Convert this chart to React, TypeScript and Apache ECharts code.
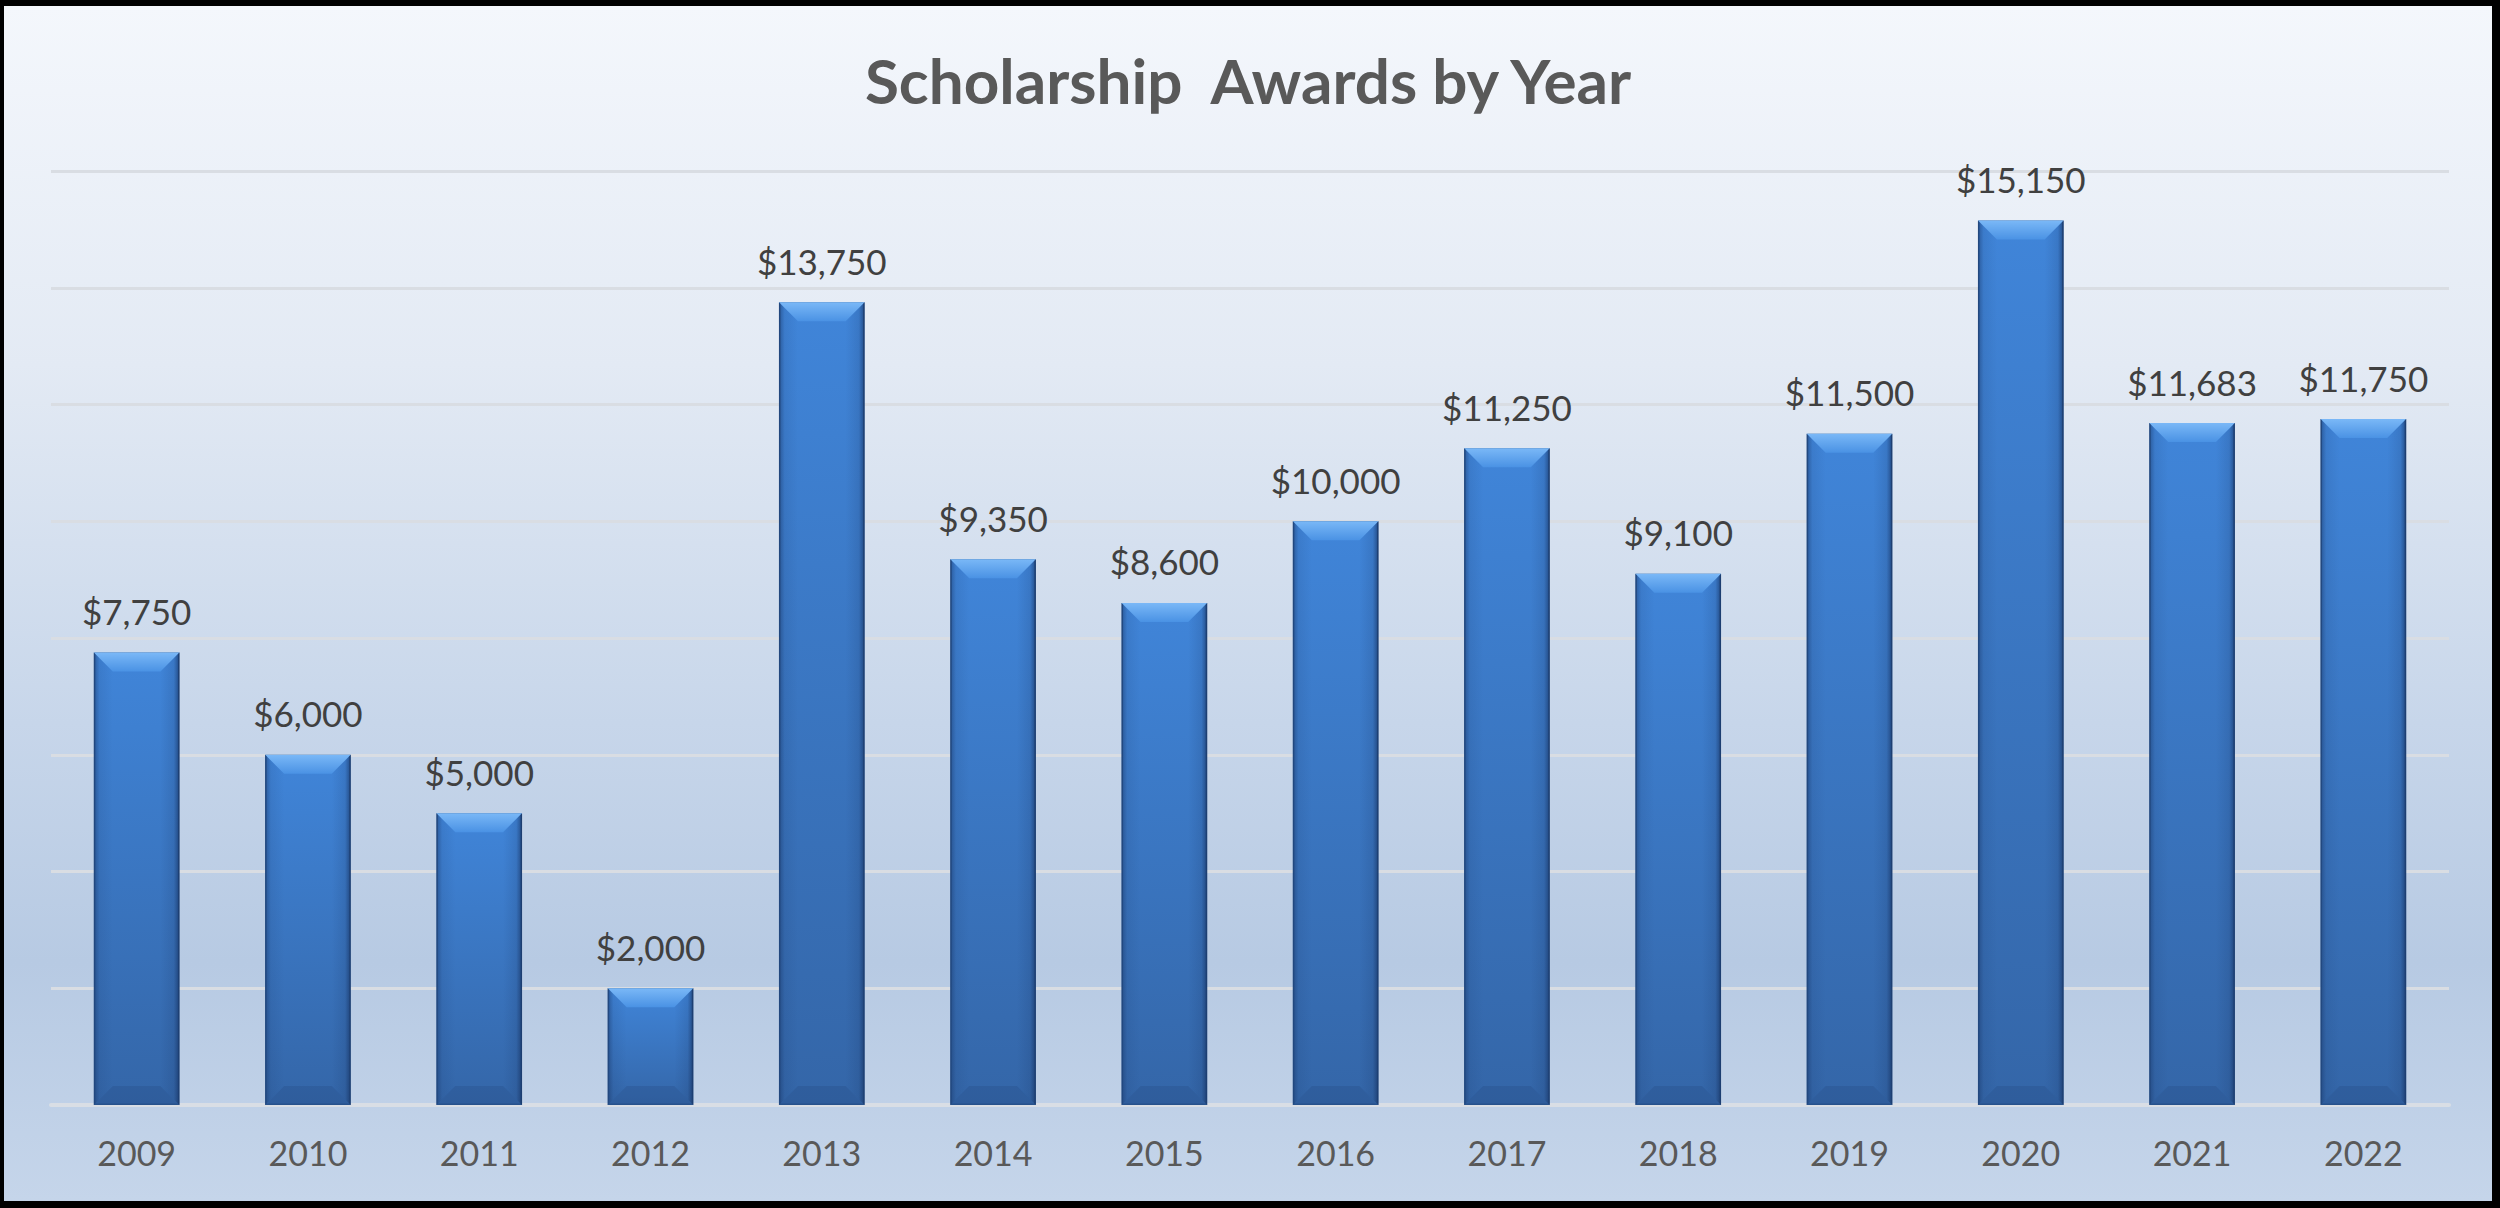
import React, { useEffect, useRef } from "react";
import * as echarts from "echarts";

const years = ["2009", "2010", "2011", "2012", "2013", "2014", "2015", "2016", "2017", "2018", "2019", "2020", "2021", "2022"];
const awards = [7750, 6000, 5000, 2000, 13750, 9350, 8600, 10000, 11250, 9100, 11500, 15150, 11683, 11750];
const titleText = "Scholarship  Awards by Year";
const yMin = 0;
const yMax = 16000;
const yStep = 2000;

const fmt = (v: number) => "$" + v.toLocaleString("en-US");

export default function App() {
  const ref = useRef<HTMLDivElement>(null);
  useEffect(() => {
    if (!ref.current) return;
    const chart = echarts.init(ref.current, null, { renderer: "svg" });
    const D = 19;
    chart.setOption({
      animation: false,
      backgroundColor: new echarts.graphic.LinearGradient(0, 0, 0, 1, [
        { offset: 0, color: "#f4f7fc" },
        { offset: 0.3, color: "#e3eaf4" },
        { offset: 0.6, color: "#c7d6ea" },
        { offset: 0.8, color: "#b7cae3" },
        { offset: 1, color: "#c5d5ea" },
      ]),
      title: {
        text: titleText,
        left: "center",
        top: 38,
        textStyle: { fontFamily: "Lato", fontWeight: "bold", fontSize: 62, color: "#595959" },
      },
      grid: { left: 47, right: 43, top: 165, bottom: 96, containLabel: false },
      xAxis: {
        type: "category",
        data: years,
        axisLine: { show: true, lineStyle: { color: "#d9dee5", width: 4 } },
        axisTick: { show: false },
        axisLabel: { fontFamily: "Lato", fontSize: 34, color: "#595959", margin: 30 },
      },
      yAxis: {
        type: "value",
        min: yMin,
        max: yMax,
        interval: yStep,
        axisLabel: { show: false },
        axisLine: { show: false },
        axisTick: { show: false },
        splitLine: { lineStyle: { color: "#d9dde3", width: 3 } },
      },
      series: [
        {
          type: "bar",
          data: awards,
          barWidth: "50%",
          itemStyle: {
            color: new echarts.graphic.LinearGradient(0, 0, 0, 1, [
              { offset: 0, color: "#4085d9" },
              { offset: 1, color: "#3466a8" },
            ]),
            borderColor: "#2a5894",
            borderWidth: 1.5,
          },
          label: {
            show: true,
            position: "top",
            distance: 24,
            formatter: (p: any) => fmt(p.value),
            fontFamily: "Lato",
            fontSize: 35,
            color: "#404040",
          },
          z: 2,
        },
        {
          type: "custom",
          z: 3,
          silent: true,
          data: awards.map((v, i) => [i, v]),
          renderItem: (params: any, api: any) => {
            const x = api.value(0);
            const v = api.value(1);
            const top = api.coord([x, v]);
            const base = api.coord([x, 0]);
            const w = api.size([1, 0])[0] * 0.5;
            const L = top[0] - w / 2;
            const R = top[0] + w / 2;
            const T = top[1];
            const B = base[1];
            return {
              type: "group",
              children: [
                {
                  type: "polygon",
                  shape: { points: [[L, T], [R, T], [R - D, T + D], [L + D, T + D]] },
                  style: {
                    fill: new echarts.graphic.LinearGradient(0, 0, 0, 1, [
                      { offset: 0, color: "#7ab8f7" },
                      { offset: 1, color: "#4a92e4" },
                    ]),
                  },
                },
                {
                  type: "polygon",
                  shape: { points: [[L, T], [L + D, T + D], [L + D, B - D], [L, B]] },
                  style: {
                    fill: new echarts.graphic.LinearGradient(0, 0, 1, 0, [
                      { offset: 0, color: "rgba(25,55,105,0.55)" },
                      { offset: 0.3, color: "rgba(25,55,105,0.12)" },
                      { offset: 1, color: "rgba(25,55,105,0.0)" },
                    ]),
                  },
                },
                {
                  type: "polygon",
                  shape: { points: [[R, T], [R - D, T + D], [R - D, B - D], [R, B]] },
                  style: {
                    fill: new echarts.graphic.LinearGradient(1, 0, 0, 0, [
                      { offset: 0, color: "rgba(20,45,90,0.65)" },
                      { offset: 0.3, color: "rgba(20,45,90,0.15)" },
                      { offset: 1, color: "rgba(20,45,90,0.0)" },
                    ]),
                  },
                },
                {
                  type: "polygon",
                  shape: { points: [[L, B], [R, B], [R - D, B - D], [L + D, B - D]] },
                  style: { fill: "rgba(25,55,105,0.18)" },
                },
              ],
            };
          },
        },
      ],
    });
    return () => chart.dispose();
  }, []);
  return (
    <div style={{ position: "fixed", left: 0, top: 0, width: 2500, height: 1208, background: "#000" }}>
      <div ref={ref} style={{ position: "absolute", left: 4, top: 6, width: 2488, height: 1195 }} />
    </div>
  );
}
